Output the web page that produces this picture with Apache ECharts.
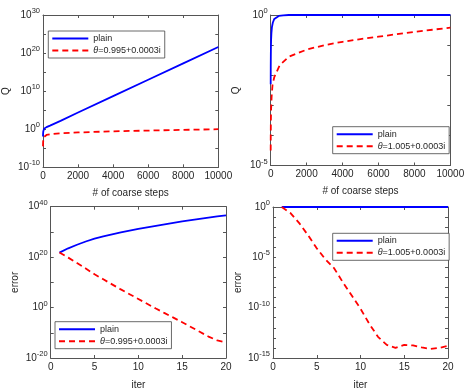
<!DOCTYPE html>
<html><head><meta charset="utf-8">
<script src="https://cdn.jsdelivr.net/npm/echarts@6/dist/echarts.min.js"></script>
<style>html,body{margin:0;padding:0;background:#fff}#c{width:474px;height:391px}</style>
</head><body><div id="c"></div>
<script>
// ---- data (y values are log10 of the plotted quantity) ----
const tlPlainX = [0, 5, 15, 30, 60, 100, 200, 400, 1000, 2000, 4000, 6000, 8000, 10000];
const tlPlainLog10 = [-1.9, -1.2, -0.6, -0.2, 0.1, 0.3, 0.55, 0.95, 2.2, 4.4, 8.7, 13.0, 17.3, 21.6];
const tlThetaX = [0, 5, 15, 40, 100, 200, 500, 1000, 2000, 4000, 6000, 8000, 10000];
const tlThetaLog10 = [-4.5, -3.6, -2.8, -2.1, -1.7, -1.5, -1.25, -1.05, -0.85, -0.55, -0.35, -0.17, 0];

const trPlainX = [0, 3, 8, 15, 25, 40, 70, 120, 200, 300, 450, 700, 1000, 10000];
const trPlainLog10 = [-2.3, -1.7, -1.3, -1.0, -0.8, -0.6, -0.4, -0.25, -0.13, -0.07, -0.03, -0.01, 0, 0];
const trThetaX = [0, 3, 8, 20, 50, 100, 200, 500, 1000, 2000, 3000, 4000, 5000, 6000, 7000, 8000, 9000, 10000];
const trThetaLog10 = [-4.5, -4.0, -3.6, -3.17, -2.72, -2.33, -2.06, -1.67, -1.39, -1.15, -1.0, -0.89, -0.8, -0.72, -0.64, -0.56, -0.49, -0.42];

const iters = [1,2,3,4,5,6,7,8,9,10,11,12,13,14,15,16,17,18,19,20];
const blPlainLog10 = [21.8, 23.5, 24.9, 26.2, 27.3, 28.2, 29.0, 29.8, 30.5, 31.2, 31.8, 32.4, 33.0, 33.6, 34.2, 34.7, 35.2, 35.7, 36.2, 36.6];
const blThetaLog10 = [21.8, 19.8, 17.7, 15.5, 13.2, 11.2, 9.2, 7.2, 5.3, 3.4, 1.5, -0.4, -2.2, -4.0, -5.8, -7.7, -9.6, -11.5, -13.0, -13.8];
const brPlainLog10 = [0,0,0,0,0,0,0,0,0,0,0,0,0,0,0,0,0,0,0,0];
const brThetaLog10 = [0, -0.6, -1.6, -2.8, -4.1, -5.2, -6.1, -7.5, -8.8, -10.1, -11.6, -12.9, -13.7, -14.0, -13.7, -13.75, -13.95, -14.1, -14.0, -13.8];

const nameA = 'θ=0.995+0.0003i';
const nameB = 'θ=1.005+0.0003i';
const xNameTop = '# of coarse steps';
const xNameBottom = 'iter';
const yNameTop = 'Q';
const yNameBottom = 'error';

// ---- styling ----
const FONT = 'Liberation Sans, Arial, Helvetica, sans-serif';
const AX = '#555';
const TXT = '#262626';
const BLUE = '#0000ff';
const RED = '#ff0000';

const grids = [
  {left: 42.7, top: 15, width: 175.6, height: 152.3},
  {left: 270.7, top: 15, width: 179.6, height: 150.5},
  {left: 50.7, top: 206.7, width: 175.3, height: 152.3},
  {left: 273, top: 207, width: 175, height: 152.3}
];

function xAxes(g, min, max, interval, name, nameGap) {
  const base = {type: 'value', gridIndex: g, min, max, interval,
    axisLine: {show: true, onZero: false, lineStyle: {color: AX, width: 1}},
    axisTick: {show: true, inside: true, length: 3, lineStyle: {color: AX}},
    splitLine: {show: false}};
  return [
    Object.assign({}, base, {position: 'bottom', name, nameLocation: 'middle', nameGap,
      nameTextStyle: {fontFamily: FONT, fontSize: 10, color: TXT},
      axisLabel: {show: true, margin: 4, fontFamily: FONT, fontSize: 10, color: TXT,
        formatter: v => String(Math.round(v))}}),
    Object.assign({}, base, {position: 'top', axisLabel: {show: false}})
  ];
}
function yAxes(g, min, max, interval, labelEvery, name, nameGap) {
  const base = {type: 'value', gridIndex: g, min, max, interval,
    axisLine: {show: true, onZero: false, lineStyle: {color: AX, width: 1}},
    axisTick: {show: true, inside: true, length: 3, lineStyle: {color: AX}},
    splitLine: {show: false}};
  return [
    Object.assign({}, base, {position: 'left', name, nameLocation: 'middle', nameGap,
      nameTextStyle: {fontFamily: FONT, fontSize: 10, color: TXT},
      axisLabel: {show: true, margin: 3, fontFamily: FONT, color: TXT,
        formatter: v => (Math.round(v) % labelEvery === 0) ? '{b|10}{s|' + Math.round(v) + '}' : '',
        rich: {b: {fontSize: 10, fontFamily: FONT, color: TXT},
               s: {fontSize: 7.5, fontFamily: FONT, color: TXT, padding: [0, 0, 8, 0]}}}}),
    Object.assign({}, base, {position: 'right', axisLabel: {show: false}})
  ];
}

function pairs(xs, ys) { return xs.map((x, i) => [x, ys[i]]); }
function line(name, g, data, color, dashed) {
  return {type: 'line', name, xAxisIndex: 2 * g, yAxisIndex: 2 * g, data,
    showSymbol: false, symbol: 'none', clip: false, animation: false,
    lineStyle: {color, width: 1.8, type: dashed ? [6, 4] : 'solid'},
    itemStyle: {color}};
}
function legend(g, names, left, top) {
  return {show: true, orient: 'vertical', left, top, data: names,
    borderColor: '#444', borderWidth: 0.8, backgroundColor: '#fff',
    padding: [3, 4, 3, 3], itemGap: 3, itemWidth: 36, itemHeight: 9,
    itemStyle: {opacity: 0, color: 'rgba(0,0,0,0)', borderWidth: 0},
    textStyle: {fontFamily: FONT, fontSize: 9, color: TXT,
      rich: {t: {fontStyle: 'italic', fontFamily: FONT, fontSize: 9, color: TXT}}},
    formatter: n => n === 'plain' ? n : '{t|θ}' + n.slice(1),
    selectedMode: false};
}

const option = {
  animation: false,
  backgroundColor: '#fff',
  grid: grids,
  xAxis: [].concat(
    xAxes(0, 0, 10000, 2000, xNameTop, 21),
    xAxes(1, 0, 10000, 2000, xNameTop, 21),
    xAxes(2, 0, 20, 5, xNameBottom, 22),
    xAxes(3, 0, 20, 5, xNameBottom, 22)),
  yAxis: [].concat(
    yAxes(0, -10, 30, 5, 10, yNameTop, 32),
    yAxes(1, -5, 0, 1, 5, yNameTop, 29),
    yAxes(2, -20, 40, 10, 20, yNameBottom, 30),
    yAxes(3, -15, 0, 1, 5, yNameBottom, 30)),
  legend: [
    legend(0, ['plain', nameA], 48.3, 31),
    legend(1, ['plain', nameB], 332.7, 126.7),
    legend(2, ['plain', nameA], 55, 321.7),
    legend(3, ['plain', nameB], 332.7, 233.3)
  ],
  series: [
    line('plain', 0, pairs(tlPlainX, tlPlainLog10), BLUE, false),
    line(nameA, 0, pairs(tlThetaX, tlThetaLog10), RED, true),
    line('plain', 1, pairs(trPlainX, trPlainLog10), BLUE, false),
    line(nameB, 1, pairs(trThetaX, trThetaLog10), RED, true),
    line('plain', 2, pairs(iters, blPlainLog10), BLUE, false),
    line(nameA, 2, pairs(iters, blThetaLog10), RED, true),
    line('plain', 3, pairs(iters, brPlainLog10), BLUE, false),
    line(nameB, 3, pairs(iters, brThetaLog10), RED, true)
  ]
};
const chart = echarts.init(document.getElementById('c'), null, {renderer: 'canvas'});
chart.setOption(option);
</script></body></html>
